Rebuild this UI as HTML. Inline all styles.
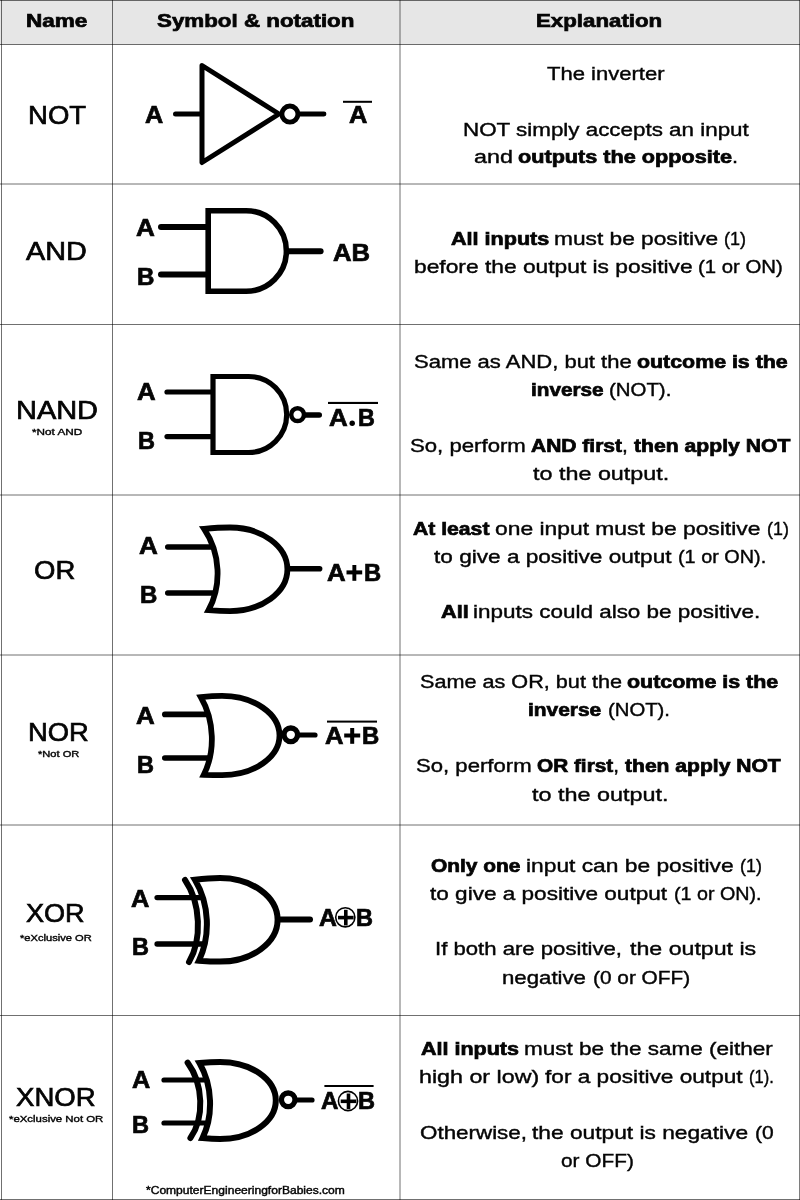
<!DOCTYPE html>
<html><head><meta charset="utf-8"><title>Logic gates</title><style>
html,body{margin:0;padding:0;background:#fff}
body{width:800px;height:1200px;position:relative;overflow:hidden;font-family:"Liberation Sans",sans-serif;color:#000}
svg{position:absolute;left:0;top:0}
.tw{position:absolute;left:0;top:0;width:800px;height:1200px;will-change:transform}
.t{position:absolute;white-space:nowrap;line-height:1;transform-origin:0 0;font-weight:400;color:#050505}
.t{-webkit-text-stroke:0.4px #050505}
.t.b,.t b{font-weight:700;-webkit-text-stroke:0.7px #050505}
.t i{font-style:normal;font-weight:400;-webkit-text-stroke:0.4px #050505}
.t.s{-webkit-text-stroke:0.4px #050505}
.t.n{-webkit-text-stroke:0.7px #050505}
</style></head><body>
<svg width="800" height="1200" viewBox="0 0 800 1200">
<rect x="0" y="0" width="800" height="44.5" fill="#e6e6e6"/>
<g stroke="rgba(0,0,0,0.56)" stroke-width="1" fill="none">
<line x1="0" y1="0.5" x2="800" y2="0.5"/>
<line x1="0" y1="44.5" x2="800" y2="44.5"/>
<line x1="0" y1="184.0" x2="800" y2="184.0"/>
<line x1="0" y1="324.5" x2="800" y2="324.5"/>
<line x1="0" y1="495.0" x2="800" y2="495.0"/>
<line x1="0" y1="655.0" x2="800" y2="655.0"/>
<line x1="0" y1="825.0" x2="800" y2="825.0"/>
<line x1="0" y1="1015.5" x2="800" y2="1015.5"/>
<line x1="0" y1="1199.5" x2="800" y2="1199.5"/>
<line x1="1.5" y1="0" x2="1.5" y2="1200"/>
<line x1="112.5" y1="0" x2="112.5" y2="1200"/>
<line x1="400.0" y1="0" x2="400.0" y2="1200"/>
<line x1="799.6" y1="0" x2="799.6" y2="1200"/>
</g>
<g stroke="#000" fill="none">
<line x1="175.5" y1="114" x2="202" y2="114" stroke-width="5" stroke-linecap="round"/>
<path d="M202,65.5 L279,114 L202,162.5 Z" stroke-width="5" stroke-linejoin="round" fill="#fff"/>
<line x1="298" y1="114" x2="324" y2="114" stroke-width="4.8" stroke-linecap="round"/>
<circle cx="289.9" cy="114.1" r="8.05" stroke-width="4.9" fill="#fff"/>
<rect x="343" y="100.8" width="29" height="2.0" fill="#000" stroke="none"/>
<line x1="161" y1="227" x2="208" y2="227" stroke-width="6" stroke-linecap="round"/>
<line x1="161" y1="274.6" x2="208" y2="274.6" stroke-width="6" stroke-linecap="round"/>
<line x1="287" y1="251.2" x2="320.6" y2="251.2" stroke-width="6" stroke-linecap="round"/>
<path d="M208.2,210.7 H246.1 A40.3,40.3 0 0 1 246.1,291.3 H208.2 Z" stroke-width="5.6" stroke-linejoin="miter" fill="#fff"/>
<line x1="167" y1="392" x2="213" y2="392" stroke-width="5.2" stroke-linecap="round"/>
<line x1="167" y1="436.6" x2="213" y2="436.6" stroke-width="5.2" stroke-linecap="round"/>
<line x1="304" y1="415" x2="319.2" y2="415" stroke-width="5.6" stroke-linecap="round"/>
<path d="M213,376.5 H248.7 A38,38 0 0 1 248.7,452.5 H213 Z" stroke-width="5.2" stroke-linejoin="miter" fill="#fff"/>
<circle cx="297.6" cy="414.7" r="6.4" stroke-width="4.5" fill="#fff"/>
<rect x="328" y="401.9" width="50" height="2.1000000000000227" fill="#000" stroke="none"/>
<circle cx="352.2" cy="423.3" r="2.7" fill="#000" stroke="none"/>
<line x1="167.7" y1="547" x2="214" y2="547" stroke-width="5.4" stroke-linecap="round"/>
<line x1="167.7" y1="593" x2="215" y2="593" stroke-width="5.4" stroke-linecap="round"/>
<line x1="288" y1="568.8" x2="319.6" y2="568.8" stroke-width="5.6" stroke-linecap="round"/>
<path d="M204.10,528.80 C215.75,527.76 223.53,527.50 230.00,527.50 C261.70,527.50 287.40,546.21 287.40,569.30 C287.40,592.39 261.70,611.10 230.00,611.10 C224.62,611.10 218.18,610.92 208.50,610.20 C221.73,585.78 220.73,553.22 204.10,528.80 Z" stroke-width="5.8" stroke-linejoin="miter" stroke-miterlimit="10" fill="#fff"/>
<rect x="346.5" y="570.4" width="15.7" height="4.0" fill="#000" stroke="none"/><rect x="352.4" y="565.0" width="3.9" height="15.8" fill="#000" stroke="none"/>
<line x1="164.8" y1="714.4" x2="209" y2="714.4" stroke-width="5.6" stroke-linecap="round"/>
<line x1="164.8" y1="758" x2="210" y2="758" stroke-width="5.6" stroke-linecap="round"/>
<line x1="298" y1="735" x2="315" y2="735" stroke-width="5.2" stroke-linecap="round"/>
<path d="M200.90,697.20 C210.40,696.16 216.72,695.90 222.00,695.90 C253.76,695.90 279.50,713.63 279.50,735.50 C279.50,757.37 253.76,775.10 222.00,775.10 C217.45,775.10 211.99,775.04 203.80,774.80 C215.45,751.52 214.45,720.48 200.90,697.20 Z" stroke-width="5.8" stroke-linejoin="miter" stroke-miterlimit="10" fill="#fff"/>
<circle cx="290.8" cy="734.8" r="6.8" stroke-width="5.3" fill="#fff"/>
<rect x="327" y="720.6" width="50" height="2.0" fill="#000" stroke="none"/>
<rect x="344.2" y="733.5" width="16.0" height="4.0" fill="#000" stroke="none"/><rect x="350.2" y="728.0" width="4.0" height="15.8" fill="#000" stroke="none"/>
<line x1="157.1" y1="897.6" x2="203" y2="897.6" stroke-width="5.4" stroke-linecap="round"/>
<line x1="157.1" y1="944" x2="204" y2="944" stroke-width="5.4" stroke-linecap="round"/>
<line x1="279" y1="919.4" x2="310" y2="919.4" stroke-width="6" stroke-linecap="round"/>
<path d="M194.90,879.70 C206.19,878.34 213.72,878.00 220.00,878.00 C251.81,878.00 277.60,896.71 277.60,919.80 C277.60,942.89 251.81,961.60 220.00,961.60 C214.72,961.60 208.40,961.42 198.90,960.70 C210.60,936.40 209.60,904.00 194.90,879.70 Z" stroke-width="6.0" stroke-linejoin="miter" stroke-miterlimit="10" fill="#fff"/>
<path d="M185,880 C201,903 202,940 189,962" stroke-width="6" stroke-linecap="round"/>
<circle cx="345.3" cy="917.3" r="9.6" stroke-width="1.6" fill="none"/><rect x="338.0" y="915.8" width="15.6" height="3.6" fill="#000" stroke="none"/><rect x="344.0" y="909.8" width="3.6" height="15.6" fill="#000" stroke="none"/>
<line x1="164" y1="1080" x2="207" y2="1080" stroke-width="5.2" stroke-linecap="round"/>
<line x1="164" y1="1123" x2="208" y2="1123" stroke-width="5.2" stroke-linecap="round"/>
<line x1="295" y1="1100" x2="312" y2="1100" stroke-width="5.2" stroke-linecap="round"/>
<path d="M199.50,1063.10 C208.72,1062.22 214.88,1062.00 220.00,1062.00 C250.82,1062.00 275.80,1079.24 275.80,1100.50 C275.80,1121.76 250.82,1139.00 220.00,1139.00 C215.62,1139.00 210.38,1138.82 202.50,1138.10 C213.50,1115.60 212.50,1085.60 199.50,1063.10 Z" stroke-width="6.0" stroke-linejoin="miter" stroke-miterlimit="10" fill="#fff"/>
<path d="M187.6,1062.6 C203.5,1084 204.5,1118 190.4,1138" stroke-width="6" stroke-linecap="round"/>
<circle cx="288.2" cy="1099.8" r="6.8" stroke-width="5.3" fill="#fff"/>
<rect x="324.4" y="1085" width="49.200000000000045" height="2" fill="#000" stroke="none"/>
<circle cx="348.0" cy="1101.0" r="9.6" stroke-width="1.6" fill="none"/><rect x="340.7" y="1099.5" width="15.6" height="3.6" fill="#000" stroke="none"/><rect x="346.7" y="1093.5" width="3.6" height="15.6" fill="#000" stroke="none"/>
</g>
</svg>
<div class="tw">
<div class="t b" style="left:26.40px;top:12.00px;font-size:18.31px;transform:scaleX(1.2309)">Name</div>
<div class="t b" style="left:156.91px;top:12.00px;font-size:18.31px;transform:scaleX(1.2215)">Symbol &amp; notation</div>
<div class="t b" style="left:535.76px;top:12.00px;font-size:18.31px;transform:scaleX(1.2171)">Explanation</div>
<div class="t n" style="left:28.07px;top:102.00px;font-size:26.02px;transform:scaleX(1.0579)">NOT</div>
<div class="t n" style="left:25.98px;top:238.00px;font-size:26.02px;transform:scaleX(1.1066)">AND</div>
<div class="t n" style="left:15.73px;top:397.00px;font-size:26.02px;transform:scaleX(1.1128)">NAND</div>
<div class="t s" style="left:31.79px;top:427.00px;font-size:9.45px;transform:scaleX(1.2434)">*Not AND</div>
<div class="t n" style="left:34.07px;top:557.00px;font-size:26.02px;transform:scaleX(1.0565)">OR</div>
<div class="t n" style="left:27.73px;top:719.00px;font-size:26.02px;transform:scaleX(1.0510)">NOR</div>
<div class="t s" style="left:37.69px;top:749.00px;font-size:9.45px;transform:scaleX(1.1782)">*Not OR</div>
<div class="t n" style="left:26.42px;top:900.00px;font-size:26.02px;transform:scaleX(1.0407)">XOR</div>
<div class="t s" style="left:19.96px;top:933.00px;font-size:9.45px;transform:scaleX(1.1789)">*eXclusive OR</div>
<div class="t n" style="left:15.75px;top:1084.00px;font-size:26.02px;transform:scaleX(1.0594)">XNOR</div>
<div class="t s" style="left:8.95px;top:1114.00px;font-size:9.45px;transform:scaleX(1.2073)">*eXclusive Not OR</div>
<div class="t b" style="left:144.68px;top:103.00px;font-size:23.98px;transform:scaleX(1.0528)">A</div>
<div class="t b" style="left:348.85px;top:103.00px;font-size:23.98px;transform:scaleX(1.0615)">A</div>
<div class="t b" style="left:135.95px;top:216.00px;font-size:24.27px;transform:scaleX(1.0747)">A</div>
<div class="t b" style="left:137.03px;top:265.00px;font-size:23.98px;transform:scaleX(1.0068)">B</div>
<div class="t b" style="left:332.96px;top:241.00px;font-size:23.98px;transform:scaleX(1.0713)">AB</div>
<div class="t b" style="left:136.67px;top:380.00px;font-size:23.98px;transform:scaleX(1.0767)">A</div>
<div class="t b" style="left:138.24px;top:429.00px;font-size:23.98px;transform:scaleX(0.9816)">B</div>
<div class="t b" style="left:328.67px;top:406.00px;font-size:24.13px;transform:scaleX(1.0749)">A</div>
<div class="t b" style="left:357.83px;top:406.00px;font-size:24.13px;transform:scaleX(0.9688)">B</div>
<div class="t b" style="left:138.90px;top:534.00px;font-size:24.13px;transform:scaleX(1.0813)">A</div>
<div class="t b" style="left:139.80px;top:583.00px;font-size:24.13px;transform:scaleX(0.9947)">B</div>
<div class="t b" style="left:326.67px;top:561.00px;font-size:23.98px;transform:scaleX(1.0767)">A</div>
<div class="t b" style="left:364.25px;top:561.00px;font-size:23.98px;transform:scaleX(0.9935)">B</div>
<div class="t b" style="left:135.67px;top:704.00px;font-size:24.13px;transform:scaleX(1.0749)">A</div>
<div class="t b" style="left:137.24px;top:753.00px;font-size:23.98px;transform:scaleX(0.9816)">B</div>
<div class="t b" style="left:324.67px;top:724.00px;font-size:24.13px;transform:scaleX(1.0630)">A</div>
<div class="t b" style="left:361.95px;top:724.00px;font-size:24.13px;transform:scaleX(0.9915)">B</div>
<div class="t b" style="left:131.05px;top:887.00px;font-size:24.13px;transform:scaleX(1.0535)">A</div>
<div class="t b" style="left:131.82px;top:935.00px;font-size:23.84px;transform:scaleX(0.9853)">B</div>
<div class="t b" style="left:318.68px;top:907.00px;font-size:23.69px;transform:scaleX(1.0448)">A</div>
<div class="t b" style="left:355.63px;top:907.00px;font-size:23.69px;transform:scaleX(0.9925)">B</div>
<div class="t b" style="left:131.98px;top:1069.00px;font-size:23.69px;transform:scaleX(1.0666)">A</div>
<div class="t b" style="left:132.47px;top:1113.00px;font-size:24.13px;transform:scaleX(0.9778)">B</div>
<div class="t b" style="left:321.00px;top:1089.00px;font-size:24.13px;transform:scaleX(1.0000)">A</div>
<div class="t b" style="left:358.07px;top:1089.00px;font-size:24.13px;transform:scaleX(0.9778)">B</div>
<div class="t" style="left:547.31px;top:65.00px;font-size:18.68px;transform:scaleX(1.1792)">The inverter</div>
<div class="t" style="left:462.89px;top:121.00px;font-size:18.68px;transform:scaleX(1.1989)">NOT simply accepts an input</div>
<div class="t" style="left:473.90px;top:148.00px;font-size:18.68px;transform:scaleX(1.2471)">and</div>
<div class="t b" style="left:518.46px;top:148.00px;font-size:18.24px;transform:scaleX(1.1866)">outputs the opposite<i>.</i></div>
<div class="t b" style="left:451.02px;top:230.00px;font-size:18.24px;transform:scaleX(1.1833)">All inputs</div>
<div class="t" style="left:554.08px;top:230.00px;font-size:18.68px;transform:scaleX(1.2165)">must be positive</div>
<div class="t" style="left:724.06px;top:230.00px;font-size:18.68px;transform:scaleX(0.9646)">(1)</div>
<div class="t" style="left:413.85px;top:258.00px;font-size:18.68px;transform:scaleX(1.2199)">before the output is positive</div>
<div class="t" style="left:697.82px;top:258.00px;font-size:18.68px;transform:scaleX(1.0895)">(1 or ON)</div>
<div class="t" style="left:413.99px;top:353.00px;font-size:18.68px;transform:scaleX(1.1783)">Same as AND, but the</div>
<div class="t b" style="left:636.60px;top:353.00px;font-size:18.24px;transform:scaleX(1.1714)">outcome is the</div>
<div class="t b" style="left:530.70px;top:381.00px;font-size:18.24px;transform:scaleX(1.1371)">inverse</div>
<div class="t" style="left:609.14px;top:381.00px;font-size:18.68px;transform:scaleX(1.0928)">(NOT).</div>
<div class="t" style="left:409.69px;top:437.00px;font-size:18.68px;transform:scaleX(1.1874)">So, perform</div>
<div class="t b" style="left:531.27px;top:437.00px;font-size:18.24px;transform:scaleX(1.1519)">AND first<i>,</i></div>
<div class="t b" style="left:633.73px;top:437.00px;font-size:18.24px;transform:scaleX(1.1602)">then apply NOT</div>
<div class="t" style="left:533.19px;top:465.00px;font-size:18.68px;transform:scaleX(1.2500)">to the output.</div>
<div class="t b" style="left:412.72px;top:520.00px;font-size:18.24px;transform:scaleX(1.1605)">At least</div>
<div class="t" style="left:495.37px;top:520.00px;font-size:18.68px;transform:scaleX(1.2234)">one input must be positive</div>
<div class="t" style="left:766.75px;top:520.00px;font-size:18.68px;transform:scaleX(0.9579)">(1)</div>
<div class="t" style="left:433.86px;top:548.00px;font-size:18.68px;transform:scaleX(1.2106)">to give a positive output</div>
<div class="t" style="left:677.86px;top:548.00px;font-size:18.68px;transform:scaleX(1.0626)">(1 or ON).</div>
<div class="t b" style="left:441.06px;top:603.00px;font-size:18.24px;transform:scaleX(1.1909)">All</div>
<div class="t" style="left:473.35px;top:603.00px;font-size:18.68px;transform:scaleX(1.2032)">inputs could also be positive.</div>
<div class="t" style="left:419.56px;top:673.00px;font-size:18.68px;transform:scaleX(1.1585)">Same as OR, but the</div>
<div class="t b" style="left:626.58px;top:673.00px;font-size:18.24px;transform:scaleX(1.1756)">outcome is the</div>
<div class="t b" style="left:528.21px;top:701.00px;font-size:18.24px;transform:scaleX(1.1468)">inverse</div>
<div class="t" style="left:607.58px;top:701.00px;font-size:18.68px;transform:scaleX(1.0871)">(NOT).</div>
<div class="t" style="left:415.98px;top:757.00px;font-size:18.68px;transform:scaleX(1.1846)">So, perform</div>
<div class="t b" style="left:537.02px;top:757.00px;font-size:18.24px;transform:scaleX(1.1397)">OR first<i>,</i></div>
<div class="t b" style="left:624.74px;top:757.00px;font-size:18.24px;transform:scaleX(1.1557)">then apply NOT</div>
<div class="t" style="left:531.65px;top:786.00px;font-size:18.68px;transform:scaleX(1.2529)">to the output.</div>
<div class="t b" style="left:431.13px;top:857.00px;font-size:18.24px;transform:scaleX(1.1469)">Only one</div>
<div class="t" style="left:526.12px;top:857.00px;font-size:18.68px;transform:scaleX(1.2198)">input can be positive</div>
<div class="t" style="left:739.75px;top:857.00px;font-size:18.68px;transform:scaleX(0.9579)">(1)</div>
<div class="t" style="left:429.86px;top:885.00px;font-size:18.68px;transform:scaleX(1.2083)">to give a positive output</div>
<div class="t" style="left:673.97px;top:885.00px;font-size:18.68px;transform:scaleX(1.0552)">(1 or ON).</div>
<div class="t" style="left:434.95px;top:940.00px;font-size:18.68px;transform:scaleX(1.1853)">If both are positive,</div>
<div class="t" style="left:629.81px;top:940.00px;font-size:18.68px;transform:scaleX(1.2405)">the output is</div>
<div class="t" style="left:501.63px;top:969.00px;font-size:18.68px;transform:scaleX(1.1895)">negative</div>
<div class="t" style="left:592.71px;top:969.00px;font-size:18.68px;transform:scaleX(1.1154)">(0 or OFF)</div>
<div class="t b" style="left:421.02px;top:1040.00px;font-size:18.24px;transform:scaleX(1.1791)">All inputs</div>
<div class="t" style="left:523.84px;top:1040.00px;font-size:18.68px;transform:scaleX(1.2048)">must be the same</div>
<div class="t" style="left:708.83px;top:1040.00px;font-size:18.68px;transform:scaleX(1.2057)">(either</div>
<div class="t" style="left:419.27px;top:1068.00px;font-size:18.68px;transform:scaleX(1.2452)">high or low)</div>
<div class="t" style="left:544.51px;top:1068.00px;font-size:18.68px;transform:scaleX(1.2126)">for a positive output</div>
<div class="t" style="left:748.68px;top:1068.00px;font-size:18.68px;transform:scaleX(0.8825)">(1).</div>
<div class="t" style="left:419.53px;top:1124.00px;font-size:18.68px;transform:scaleX(1.1987)">Otherwise,</div>
<div class="t" style="left:532.20px;top:1124.00px;font-size:18.68px;transform:scaleX(1.2174)">the output is negative</div>
<div class="t" style="left:755.22px;top:1124.00px;font-size:18.68px;transform:scaleX(1.1243)">(0</div>
<div class="t" style="left:561.39px;top:1152.00px;font-size:18.68px;transform:scaleX(1.1145)">or OFF)</div>
<div class="t s" style="left:145.51px;top:1186.00px;font-size:10.03px;transform:scaleX(1.2026)">*ComputerEngineeringforBabies.com</div>
</div>
</body></html>
